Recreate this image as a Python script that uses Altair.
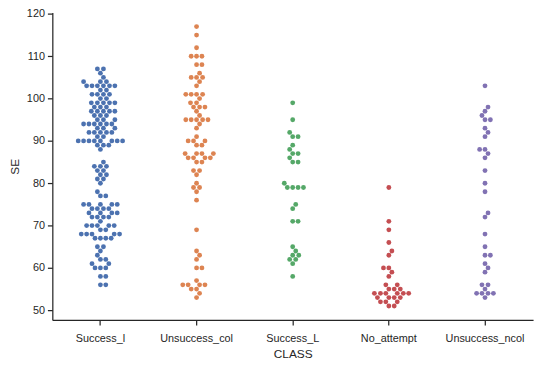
import altair as alt
import pandas as pd
import numpy as np

categories = ["Success_l", "Unsuccess_col", "Success_L", "No_attempt", "Unsuccess_ncol"]
colors = ["#4C72B0", "#DD8452", "#55A868", "#C44E52", "#8172B3"]

success_l = [107, 107, 106, 105, 104, 104, 104, 103, 103, 103, 103, 103, 103, 102, 102,
             101, 101, 101, 101, 100, 100, 99, 99, 99, 99, 99, 98, 98, 98, 97, 97, 97, 97, 97,
             96, 96, 96, 95, 95, 95, 94, 94, 94, 94, 94, 94, 93, 93, 93, 92, 92, 92, 92, 92,
             91, 91, 90, 90, 90, 90, 90, 90, 90, 90, 89, 89, 89, 88,
             85, 84, 84, 84, 83, 83, 82, 82, 81, 81, 80, 78, 77, 77, 75, 75, 75, 75, 75,
             74, 74, 74, 74, 73, 73, 73, 73, 72, 72, 72, 72, 71, 70, 70, 70, 70, 70, 69, 69,
             68, 68, 68, 68, 68, 67, 67, 67, 67, 65, 65, 64, 63, 62, 62, 61, 61, 60, 60, 60,
             58, 58, 56, 56]
unsuccess_col = [117, 115, 112, 110, 110, 110, 108, 108, 106, 105, 105, 105, 104, 103,
                 101, 101, 101, 101, 100, 99, 99, 98, 98, 98, 97, 96, 95, 95, 95, 95, 95,
                 94, 93, 91, 90, 90, 90, 89, 89, 87, 87, 87, 87, 86, 86, 86, 86, 85, 85,
                 83, 83, 82, 80, 79, 79, 78, 76, 69, 64, 63, 62, 60, 60, 57, 56, 56, 56, 56,
                 55, 55, 54, 53]
success_L = [99, 95, 92, 91, 91, 89, 88, 87, 87, 86, 85, 85, 80, 79, 79, 79, 79, 75, 74,
             71, 71, 65, 64, 63, 63, 62, 62, 61, 58]
no_attempt = [79, 71, 69, 66, 64, 63, 60, 60, 59, 58, 56, 56, 55, 55, 55, 54, 54, 54, 54,
              54, 54, 53, 53, 53, 53, 52, 52, 52, 51, 51]
unsuccess_ncol = [103, 98, 97, 96, 95, 95, 93, 92, 91, 88, 88, 87, 86, 83, 80, 78, 73, 72,
                  68, 65, 63, 63, 61, 60, 59, 56, 56, 55, 54, 54, 54, 54, 53]

series = [success_l, unsuccess_col, success_L, no_attempt, unsuccess_ncol]

Y_MIN, Y_MAX = 47.7, 120.3
W, H = 488, 312
DIAM = 5.2
px_per_unit = H / (Y_MAX - Y_MIN)


def beeswarm(values):
    """seaborn-style swarm: returns horizontal pixel offsets for each value"""
    order = np.argsort(np.asarray(values), kind="stable")
    ys = np.asarray(values, dtype=float)[order] * px_per_unit
    placed_x, placed_y = [], []
    out = np.zeros(len(values))
    for k, y in enumerate(ys):
        nbrs = [(px, py) for px, py in zip(placed_x, placed_y) if abs(py - y) < DIAM]
        cands = [0.0]
        for px, py in nbrs:
            dx = np.sqrt(max(DIAM ** 2 - (y - py) ** 2, 0)) * 1.05
            cands += [px + dx, px - dx]
        cands = sorted(cands, key=lambda c: abs(c))
        chosen = cands[-1]
        for c in cands:
            if all((c - px) ** 2 + (y - py) ** 2 >= DIAM ** 2 - 1e-9 for px, py in nbrs):
                chosen = c
                break
        placed_x.append(chosen)
        placed_y.append(y)
        out[order[k]] = chosen
    return out


rows = []
for cat, vals in zip(categories, series):
    offs = beeswarm(vals)
    for v, o in zip(vals, offs):
        rows.append({"CLASS": cat, "SE": v, "off": o})
df = pd.DataFrame(rows)

band = W / len(categories)
font = "Liberation Sans"
ink = "#262626"

chart = alt.Chart(df).mark_circle(size=24, opacity=1).encode(
    x=alt.X("CLASS:N", sort=categories,
            scale=alt.Scale(paddingInner=0, paddingOuter=0),
            axis=alt.Axis(labelAngle=0, title="CLASS", labelPadding=8, titlePadding=5)),
    xOffset=alt.XOffset("off:Q", scale=alt.Scale(domain=[-band / 2, band / 2], range=[0, band])),
    y=alt.Y("SE:Q", scale=alt.Scale(domain=[Y_MIN, Y_MAX], nice=False, zero=False),
            axis=alt.Axis(values=[50, 60, 70, 80, 90, 100, 110, 120], title="SE",
                          labelPadding=3, titlePadding=5)),
    color=alt.Color("CLASS:N", sort=categories,
                    scale=alt.Scale(domain=categories, range=colors), legend=None),
).properties(
    width=W, height=H,
    autosize=alt.AutoSizeParams(type="none"),
    padding={"left": 45, "top": 2, "right": 5, "bottom": 44},
).configure_view(stroke=None).configure_axis(
    grid=False, domainColor=ink, domainWidth=1.25, tickColor=ink, tickWidth=1.25,
    tickSize=5, labelColor=ink, titleColor=ink, labelFont=font, titleFont=font,
    labelFontSize=11, titleFontSize=12, titleFontWeight="normal",
)

chart.save("out.html", embed_options={"renderer": "svg", "actions": False})
